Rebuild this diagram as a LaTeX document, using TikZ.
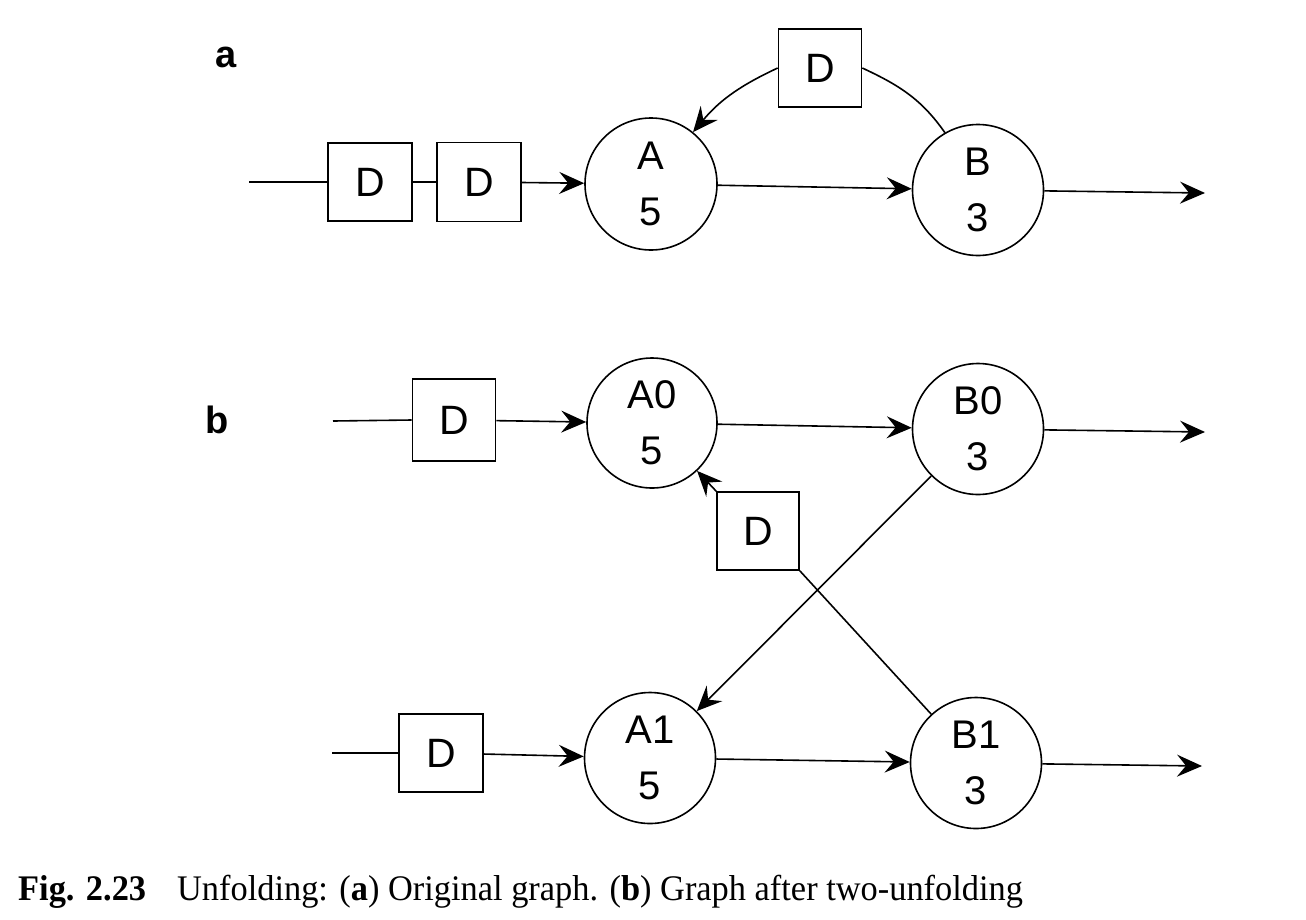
\documentclass[tikz,border=0pt]{standalone}
\usepackage{fontspec}
\setmainfont{Liberation Serif}
\newfontfamily\hv{Liberation Sans}
\usetikzlibrary{arrows.meta}
\begin{document}
\begin{tikzpicture}[x=1pt,y=1pt,
  proc/.style={circle, draw, line width=1.6pt, minimum size=131pt, inner sep=0pt,
    align=center, font=\hv\fontsize{40}{56}\selectfont},
  dbox/.style={draw, line width=1.6pt, minimum width=83pt, minimum height=80pt, inner sep=0pt,
    font=\hv\fontsize{41}{56}\selectfont},
  conn/.style={line width=1.6pt},
  arr/.style={conn, -{Stealth[length=25pt,width=22pt,inset=9pt]}},
  lab/.style={font=\hv\bfseries\fontsize{38}{40}\selectfont}
]
\useasboundingbox (0,0) rectangle (1306,-919);
\fill[white] (0,0) rectangle (1306,-919);

% ---- part a ----
\node[lab] (la) at (226,-57) {a};
\coordinate (inA) at (249,-182);
\node[dbox, minimum width=84pt, minimum height=78pt] (Da1) at (370,-182) {D};
\node[dbox, minimum width=84pt, minimum height=79pt] (Da2) at (479,-182) {D};
\node[proc, minimum size=132pt] (A) at (651,-184) {A\\5};
\node[proc] (B) at (978,-190) {B\\3};
\coordinate (outB) at (1205,-193);
\node[dbox, minimum width=83pt, minimum height=78pt] (Dt) at (820,-68) {D};

\draw[conn] (inA) -- (Da1.west);
\draw[conn] (Da1) -- (Da2);
\draw[arr] (Da2) -- (A);
\draw[arr] (A) -- (B);
\draw[arr] (B) -- (outB);
\draw[conn] (B.120) to[out=125,in=-25] (Dt.east);
\draw[arr] (Dt.west) to[out=205,in=50] (A.51);

% ---- part b ----
\node[lab] (lb) at (217,-420) {b};
\coordinate (inA0) at (333,-421);
\node[dbox, minimum width=83pt, minimum height=82pt] (Db0) at (454,-420) {D};
\node[proc, minimum size=130pt] (A0) at (652,-423) {A0\\5};
\node[proc] (B0) at (978,-429) {B0\\3};
\coordinate (outB0) at (1205,-432);
\node[dbox, minimum width=82pt, minimum height=78pt] (Dm) at (758,-531) {D};

\coordinate (inA1) at (332,-753);
\node[dbox, minimum width=84pt, minimum height=78pt] (Db1) at (441,-753) {D};
\node[proc] (A1) at (650,-758) {A1\\5};
\node[proc] (B1) at (976,-763) {B1\\3};
\coordinate (outB1) at (1202,-766);

\draw[conn] (inA0) -- (Db0.west);
\draw[arr] (Db0) -- (A0);
\draw[arr] (A0) -- (B0);
\draw[arr] (B0) -- (outB0);

\draw[conn] (inA1) -- (Db1.west);
\draw[arr] (Db1) -- (A1);
\draw[arr] (A1) -- (B1);
\draw[arr] (B1) -- (outB1);

\draw[arr] (B0) -- (A1);
\draw[conn] (B1) -- (Dm.south east);
\draw[arr] (Dm.north west) -- (A0);

% ---- caption ----
\node[anchor=west, inner sep=0pt, font=\fontsize{36}{40}\selectfont] (cap) at (18,-892)
  {\scalebox{0.955}[1]{\textbf{Fig. 2.23}\hspace{0.9em}Unfolding: (\textbf{a}) Original graph. (\textbf{b}) Graph after two-unfolding}};
\end{tikzpicture}
\end{document}
